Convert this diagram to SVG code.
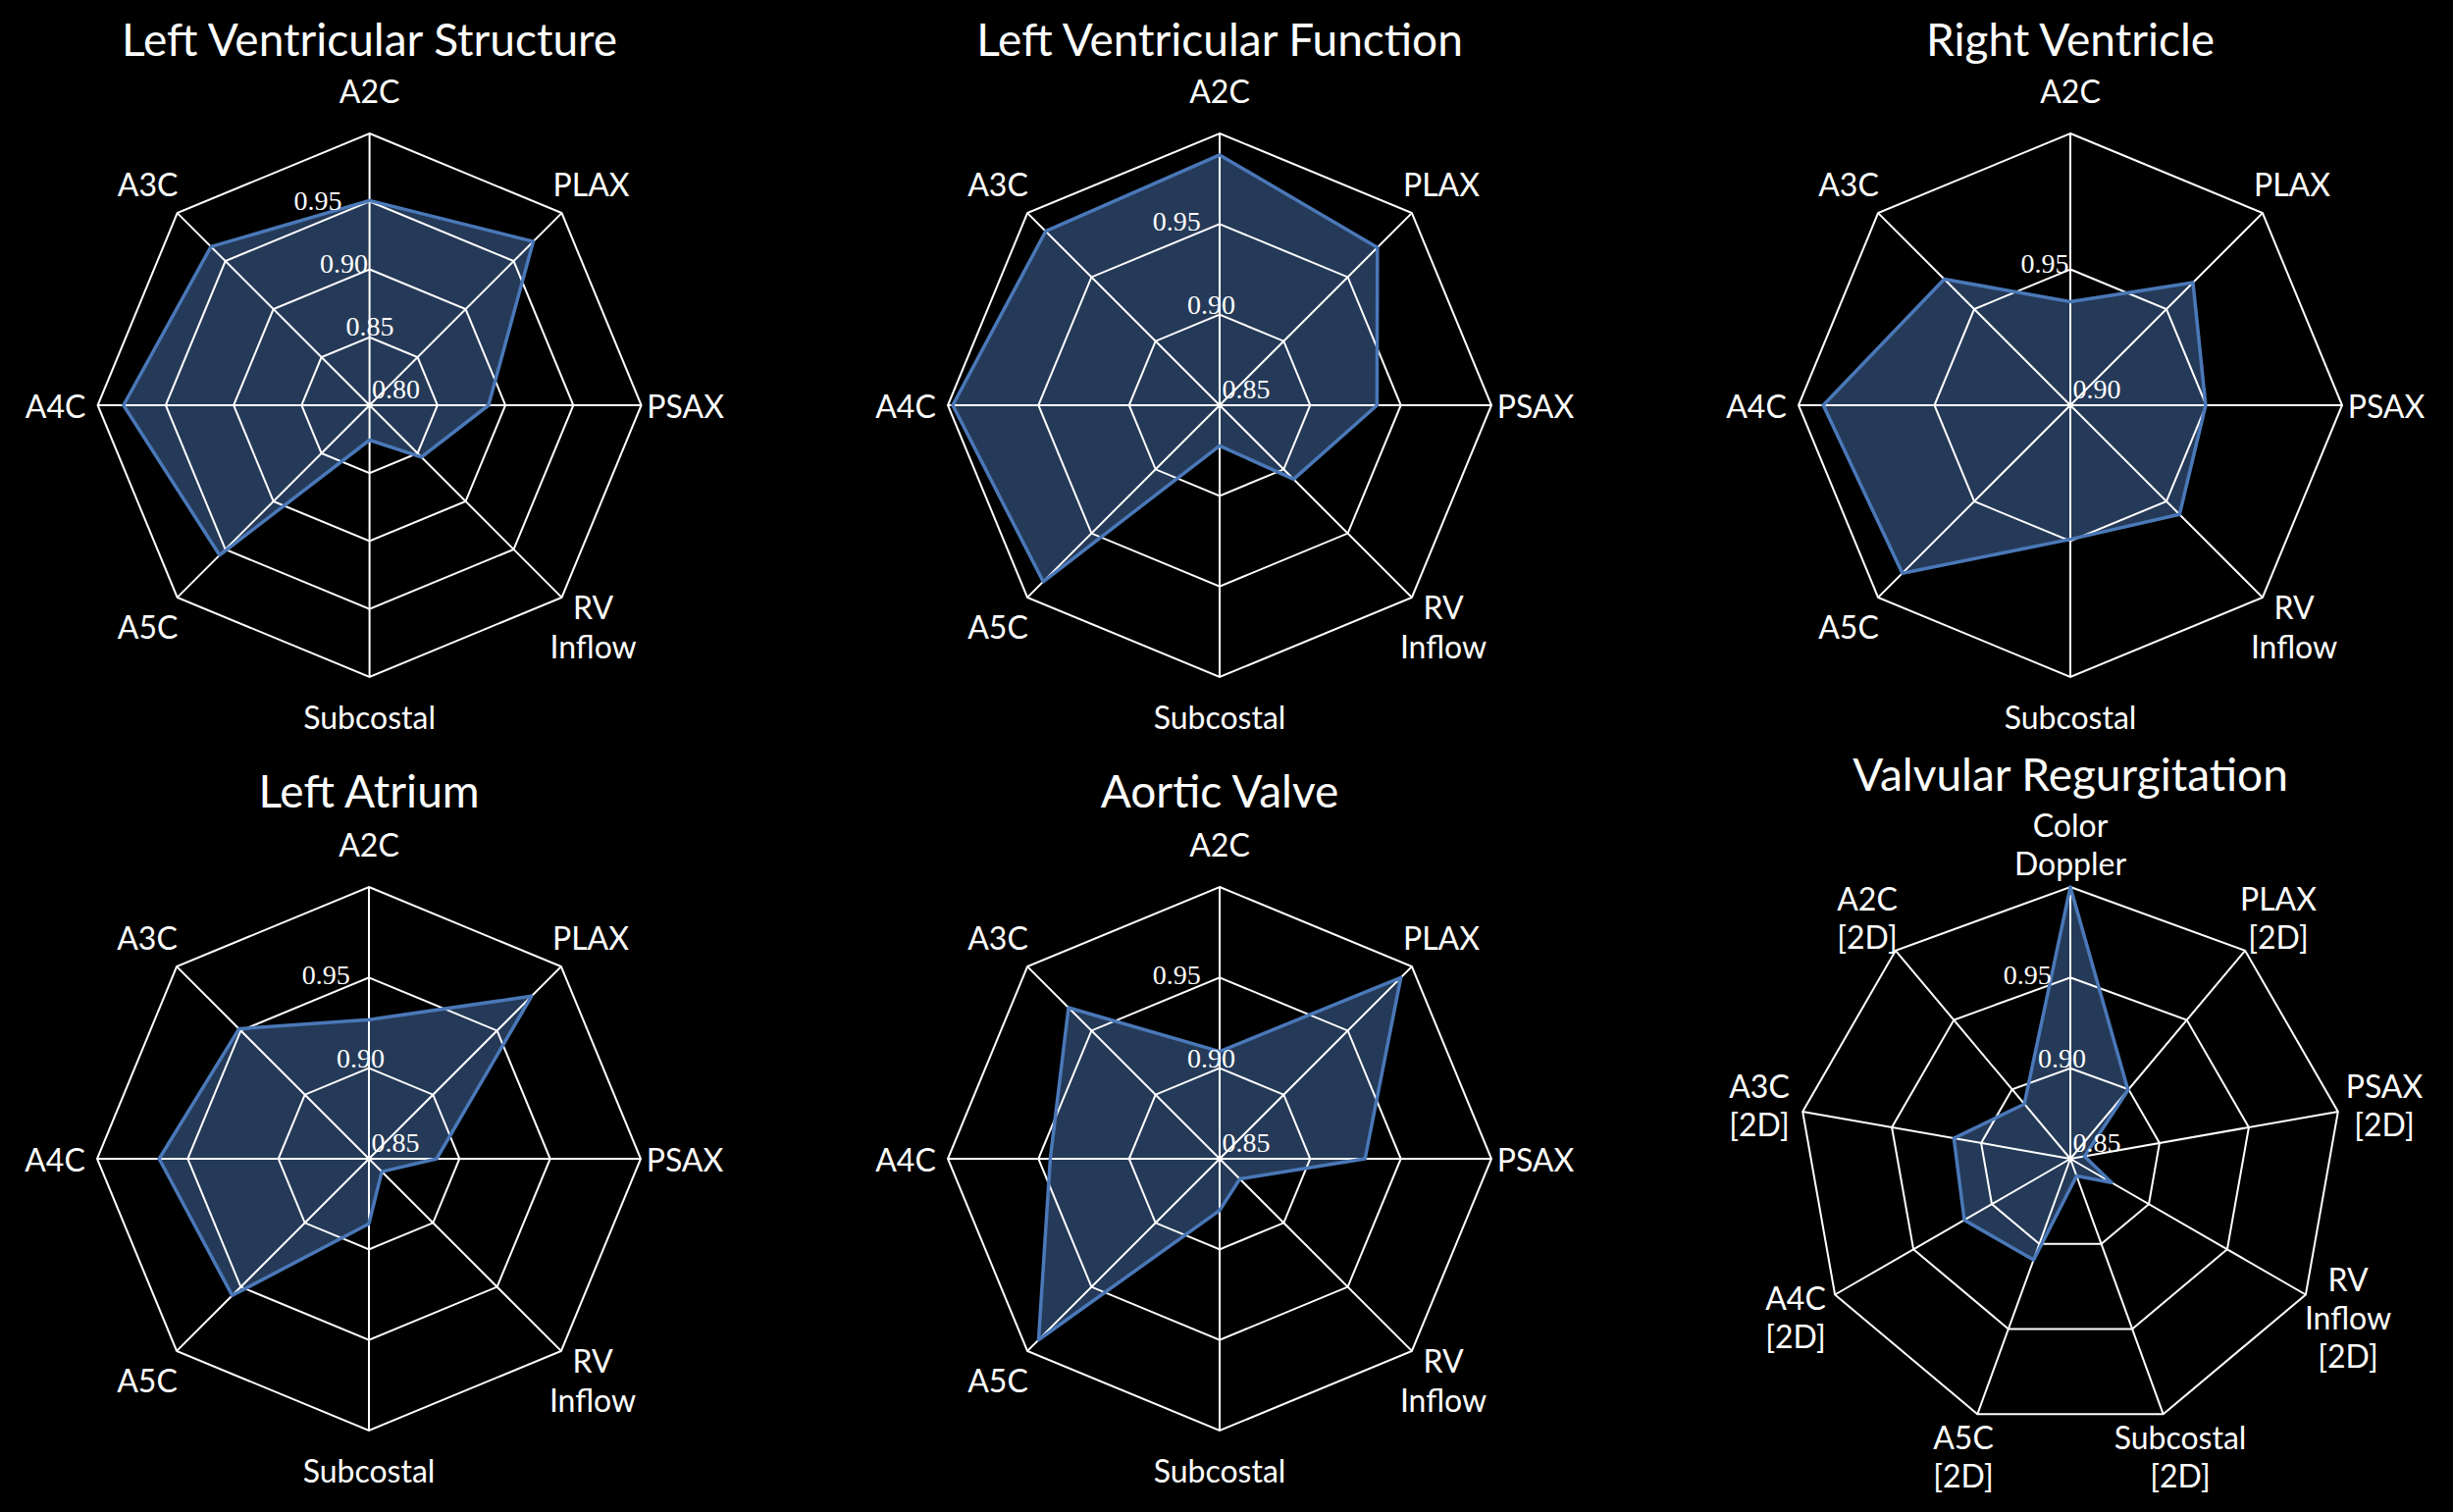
<svg xmlns="http://www.w3.org/2000/svg" width="2500" height="1541" viewBox="0 0 2500 1541">
<style>
.bg{fill:#000}
.fill{fill:#253a58;stroke:none}
.line{fill:none;stroke:#4a78b8;stroke-width:3.5;stroke-linejoin:round}
.grid{fill:none;stroke:#fff;stroke-width:2}
.title{font-family:Lato,"Liberation Sans",sans-serif;font-size:46px;fill:#fff;text-anchor:middle}
.ax{font-family:Lato,"Liberation Sans",sans-serif;font-size:32px;fill:#fff;text-anchor:middle;dominant-baseline:central}
.tk{font-family:"Liberation Serif",serif;font-size:28px;fill:#fff;text-anchor:middle;dominant-baseline:central}
</style>
<defs>
<g id="oct">
<polygon class="grid" points="0,-277 195.9,-195.9 277,0 195.9,195.9 0,277 -195.9,195.9 -277,0 -195.9,-195.9"/>
<path class="grid" d="M0,0L0,-277M0,0L195.9,-195.9M0,0L277,0M0,0L195.9,195.9M0,0L0,277M0,0L-195.9,195.9M0,0L-277,0M0,0L-195.9,-195.9"/>
</g>
<polygon id="r4a" class="grid" points="0,-69.25 49,-49 69.25,0 49,49 0,69.25 -49,49 -69.25,0 -49,-49"/>
<polygon id="r4b" class="grid" points="0,-138.5 97.95,-97.95 138.5,0 97.95,97.95 0,138.5 -97.95,97.95 -138.5,0 -97.95,-97.95"/>
<polygon id="r4c" class="grid" points="0,-207.75 146.9,-146.9 207.75,0 146.9,146.9 0,207.75 -146.9,146.9 -207.75,0 -146.9,-146.9"/>
<polygon id="r3a" class="grid" points="0,-92.3 65.3,-65.3 92.3,0 65.3,65.3 0,92.3 -65.3,65.3 -92.3,0 -65.3,-65.3"/>
<polygon id="r3b" class="grid" points="0,-184.7 130.6,-130.6 184.7,0 130.6,130.6 0,184.7 -130.6,130.6 -184.7,0 -130.6,-130.6"/>
<g id="labels8">
<text class="ax" x="0" y="-321">A2C</text>
<text class="ax" x="226" y="-226">PLAX</text>
<text class="ax" x="322" y="0">PSAX</text>
<text class="ax" x="228" y="205">RV</text>
<text class="ax" x="228" y="245">Inflow</text>
<text class="ax" x="0" y="317">Subcostal</text>
<text class="ax" x="-226" y="225">A5C</text>
<text class="ax" x="-320" y="0">A4C</text>
<text class="ax" x="-226" y="-226">A3C</text>
</g>
</defs>
<rect class="bg" x="0" y="0" width="2500" height="1541"/>

<g id="chart-lv-structure" transform="translate(376.6,413)">
<polygon class="fill" points="0,-208.6 166.9,-166.9 121.3,0 52.9,52.9 0,35.5 -152.8,152.8 -250.7,0 -161.6,-161.6"/>
<use href="#oct"/><use href="#r4a"/><use href="#r4b"/><use href="#r4c"/>
<polygon class="line" points="0,-208.6 166.9,-166.9 121.3,0 52.9,52.9 0,35.5 -152.8,152.8 -250.7,0 -161.6,-161.6"/>
<text class="tk" x="27" y="-17">0.80</text><text class="tk" x="0.5" y="-81">0.85</text><text class="tk" x="-26" y="-145">0.90</text><text class="tk" x="-52.6" y="-209">0.95</text>
<use href="#labels8"/>
<text class="title" x="0" y="-356">Left Ventricular Structure</text>
</g>

<g id="chart-lv-function" transform="translate(1243,413)">
<polygon class="fill" points="0,-255.1 160.8,-160.8 160.4,0 75.4,75.4 0,41.3 -179.8,179.8 -272,0 -177.3,-177.3"/>
<use href="#oct"/><use href="#r3a"/><use href="#r3b"/>
<polygon class="line" points="0,-255.1 160.8,-160.8 160.4,0 75.4,75.4 0,41.3 -179.8,179.8 -272,0 -177.3,-177.3"/>
<text class="tk" x="27" y="-17">0.85</text><text class="tk" x="-8.4" y="-102.3">0.90</text><text class="tk" x="-43.7" y="-187.7">0.95</text>
<use href="#labels8"/>
<text class="title" x="0" y="-356">Left Ventricular Function</text>
</g>

<g id="chart-rv" transform="translate(2110,413)">
<polygon class="fill" points="0,-105.5 125,-125 137.9,0 111.3,111.3 0,136.6 -171.2,171.2 -251.8,0 -128.5,-128.5"/>
<use href="#oct"/><use href="#r4b"/>
<polygon class="line" points="0,-105.5 125,-125 137.9,0 111.3,111.3 0,136.6 -171.2,171.2 -251.8,0 -128.5,-128.5"/>
<text class="tk" x="27" y="-17">0.90</text><text class="tk" x="-26" y="-145">0.95</text>
<use href="#labels8"/>
<text class="title" x="0" y="-356">Right Ventricle</text>
</g>

<g id="chart-la" transform="translate(376,1181)">
<polygon class="fill" points="0,-141.8 165.7,-165.7 69,0 13.1,13.1 0,66.2 -139.3,139.3 -213.8,0 -132.4,-132.4"/>
<use href="#oct"/><use href="#r3a"/><use href="#r3b"/>
<polygon class="line" points="0,-141.8 165.7,-165.7 69,0 13.1,13.1 0,66.2 -139.3,139.3 -213.8,0 -132.4,-132.4"/>
<text class="tk" x="27" y="-17">0.85</text><text class="tk" x="-8.4" y="-102.3">0.90</text><text class="tk" x="-43.7" y="-187.7">0.95</text>
<use href="#labels8"/>
<text class="title" x="0" y="-358">Left Atrium</text>
</g>

<g id="chart-av" transform="translate(1243,1181)">
<polygon class="fill" points="0,-109.4 184.7,-184.7 148.2,0 20.6,20.6 0,52.6 -184.5,184.5 -172.6,0 -154,-154"/>
<use href="#oct"/><use href="#r3a"/><use href="#r3b"/>
<polygon class="line" points="0,-109.4 184.7,-184.7 148.2,0 20.6,20.6 0,52.6 -184.5,184.5 -172.6,0 -154,-154"/>
<text class="tk" x="27" y="-17">0.85</text><text class="tk" x="-8.4" y="-102.3">0.90</text><text class="tk" x="-43.7" y="-187.7">0.95</text>
<use href="#labels8"/>
<text class="title" x="0" y="-358">Aortic Valve</text>
</g>

<g id="chart-vr" transform="translate(2110,1181)">
<polygon class="fill" points="0,-277 58.8,-70 14.5,-2.6 42,24.3 6.4,17.5 -37.5,103.1 -108,62.4 -118.7,-20.9 -46.9,-55.8"/>
<polygon class="grid" points="0,-277 178.1,-212.2 272.8,-48.1 239.9,138.5 94.7,260.3 -94.7,260.3 -239.9,138.5 -272.8,-48.1 -178.1,-212.2"/>
<polygon class="grid" points="0,-92.3 59.4,-70.7 90.9,-16 80,46.2 31.6,86.8 -31.6,86.8 -80,46.2 -90.9,-16 -59.4,-70.7"/>
<polygon class="grid" points="0,-184.7 118.7,-141.5 181.9,-32.1 159.9,92.3 63.1,173.5 -63.1,173.5 -159.9,92.3 -181.9,-32.1 -118.7,-141.5"/>
<path class="grid" d="M0,0L0,-277M0,0L178.1,-212.2M0,0L272.8,-48.1M0,0L239.9,138.5M0,0L94.7,260.3M0,0L-94.7,260.3M0,0L-239.9,138.5M0,0L-272.8,-48.1M0,0L-178.1,-212.2"/>
<polygon class="line" points="0,-277 58.8,-70 14.5,-2.6 42,24.3 6.4,17.5 -37.5,103.1 -108,62.4 -118.7,-20.9 -46.9,-55.8"/>
<text class="tk" x="27" y="-17">0.85</text><text class="tk" x="-8.4" y="-102.3">0.90</text><text class="tk" x="-43.7" y="-187.7">0.95</text>
<text class="ax" x="0" y="-341">Color</text><text class="ax" x="0" y="-302">Doppler</text>
<text class="ax" x="212" y="-266">PLAX</text><text class="ax" x="212" y="-227">[2D]</text>
<text class="ax" x="320" y="-75">PSAX</text><text class="ax" x="320" y="-36">[2D]</text>
<text class="ax" x="283" y="122">RV</text><text class="ax" x="283" y="161">Inflow</text><text class="ax" x="283" y="200">[2D]</text>
<text class="ax" x="112" y="283">Subcostal</text><text class="ax" x="112" y="322">[2D]</text>
<text class="ax" x="-109" y="283">A5C</text><text class="ax" x="-109" y="322">[2D]</text>
<text class="ax" x="-280" y="141">A4C</text><text class="ax" x="-280" y="180">[2D]</text>
<text class="ax" x="-317" y="-75">A3C</text><text class="ax" x="-317" y="-36">[2D]</text>
<text class="ax" x="-207" y="-266">A2C</text><text class="ax" x="-207" y="-227">[2D]</text>
<text class="title" x="0" y="-375">Valvular Regurgitation</text>
</g>
</svg>
